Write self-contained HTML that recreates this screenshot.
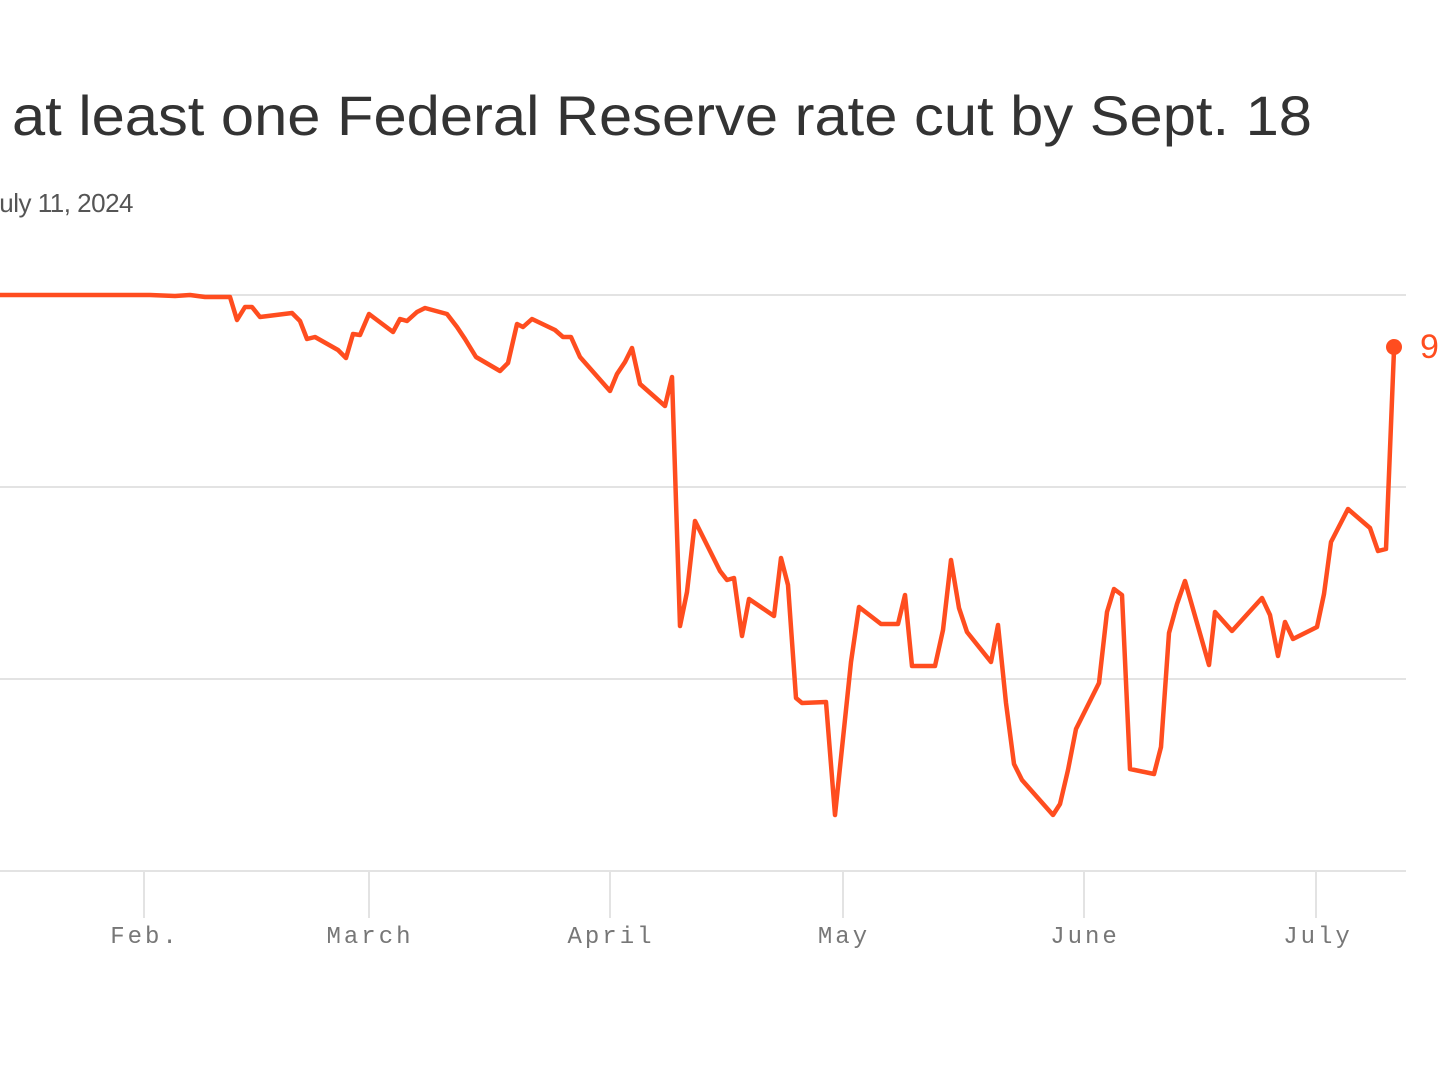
<!DOCTYPE html>
<html><head><meta charset="utf-8"><style>
html,body{margin:0;padding:0;background:#fff;width:1440px;height:1080px;overflow:hidden}
</style></head><body>
<svg width="1440" height="1080" viewBox="0 0 1440 1080" xmlns="http://www.w3.org/2000/svg">
<text x="12" y="135" font-family="Liberation Sans, sans-serif" font-size="56" fill="#333" textLength="1300" lengthAdjust="spacingAndGlyphs">at least one Federal Reserve rate cut by Sept. 18</text>
<text x="133" y="212" text-anchor="end" font-family="Liberation Sans, sans-serif" font-size="26" fill="#555" letter-spacing="-0.5">July 11, 2024</text>
<g stroke="#e3e3e3" stroke-width="2">
<line x1="0" y1="295" x2="1406" y2="295"/>
<line x1="0" y1="487" x2="1406" y2="487"/>
<line x1="0" y1="679" x2="1406" y2="679"/>
<line x1="0" y1="871" x2="1406" y2="871"/>
<line x1="144" y1="871" x2="144" y2="918"/>
<line x1="369" y1="871" x2="369" y2="918"/>
<line x1="610" y1="871" x2="610" y2="918"/>
<line x1="843" y1="871" x2="843" y2="918"/>
<line x1="1084" y1="871" x2="1084" y2="918"/>
<line x1="1316" y1="871" x2="1316" y2="918"/>
</g>
<g font-family="Liberation Mono, monospace" font-size="24" fill="#777" text-anchor="middle" letter-spacing="3">
<text x="145" y="943">Feb.</text>
<text x="370" y="943">March</text>
<text x="611" y="943">April</text>
<text x="844" y="943">May</text>
<text x="1085" y="943">June</text>
<text x="1318" y="943">July</text>
</g>
<polyline fill="none" stroke="#ff4d1f" stroke-width="4.5" stroke-linejoin="round" points="0,295 150,295 175,296 190,295 205,297 230,297 237,320 245,307 252,307 260,317 292,313 300,321 307,339 315,337 338,350 346,358 353,334 360,335 369,314 393,332 400,319 407,321 417,312 425,308 447,314 457,327 465,339 476,357 500,371 508,363 517,324 523,327 532,319 555,330 563,337 571,337 580,357 610,391 617,374 625,362 632,348 640,384 665,406 672,377 680,626 687,592 695,521 720,571 727,580 734,578 742,636 749,599 774,616 781,558 788,585 796,698 802,703 826,702 835,815 851,662 859,607 881,624 898,624 905,595 912,666 935,666 943,630 951,560 959,608 967,632 991,662 998,625 1006,703 1014,764 1022,780 1045,806 1053,815 1060,804 1068,770 1076,729 1099,683 1107,612 1114,589 1122,595 1130,769 1154,774 1161,747 1169,633 1177,604 1185,581 1209,665 1215,612 1232,631 1262,598 1270,615 1278,656 1285,622 1293,639 1317,627 1324,594 1331,542 1348,509 1370,528 1378,551 1386,549 1394,350"/>
<circle cx="1394" cy="347" r="8" fill="#ff4d1f"/>
<text x="1420" y="358" font-family="Liberation Sans, sans-serif" font-size="34" fill="#ff4d1f">9</text>
</svg>
</body></html>
